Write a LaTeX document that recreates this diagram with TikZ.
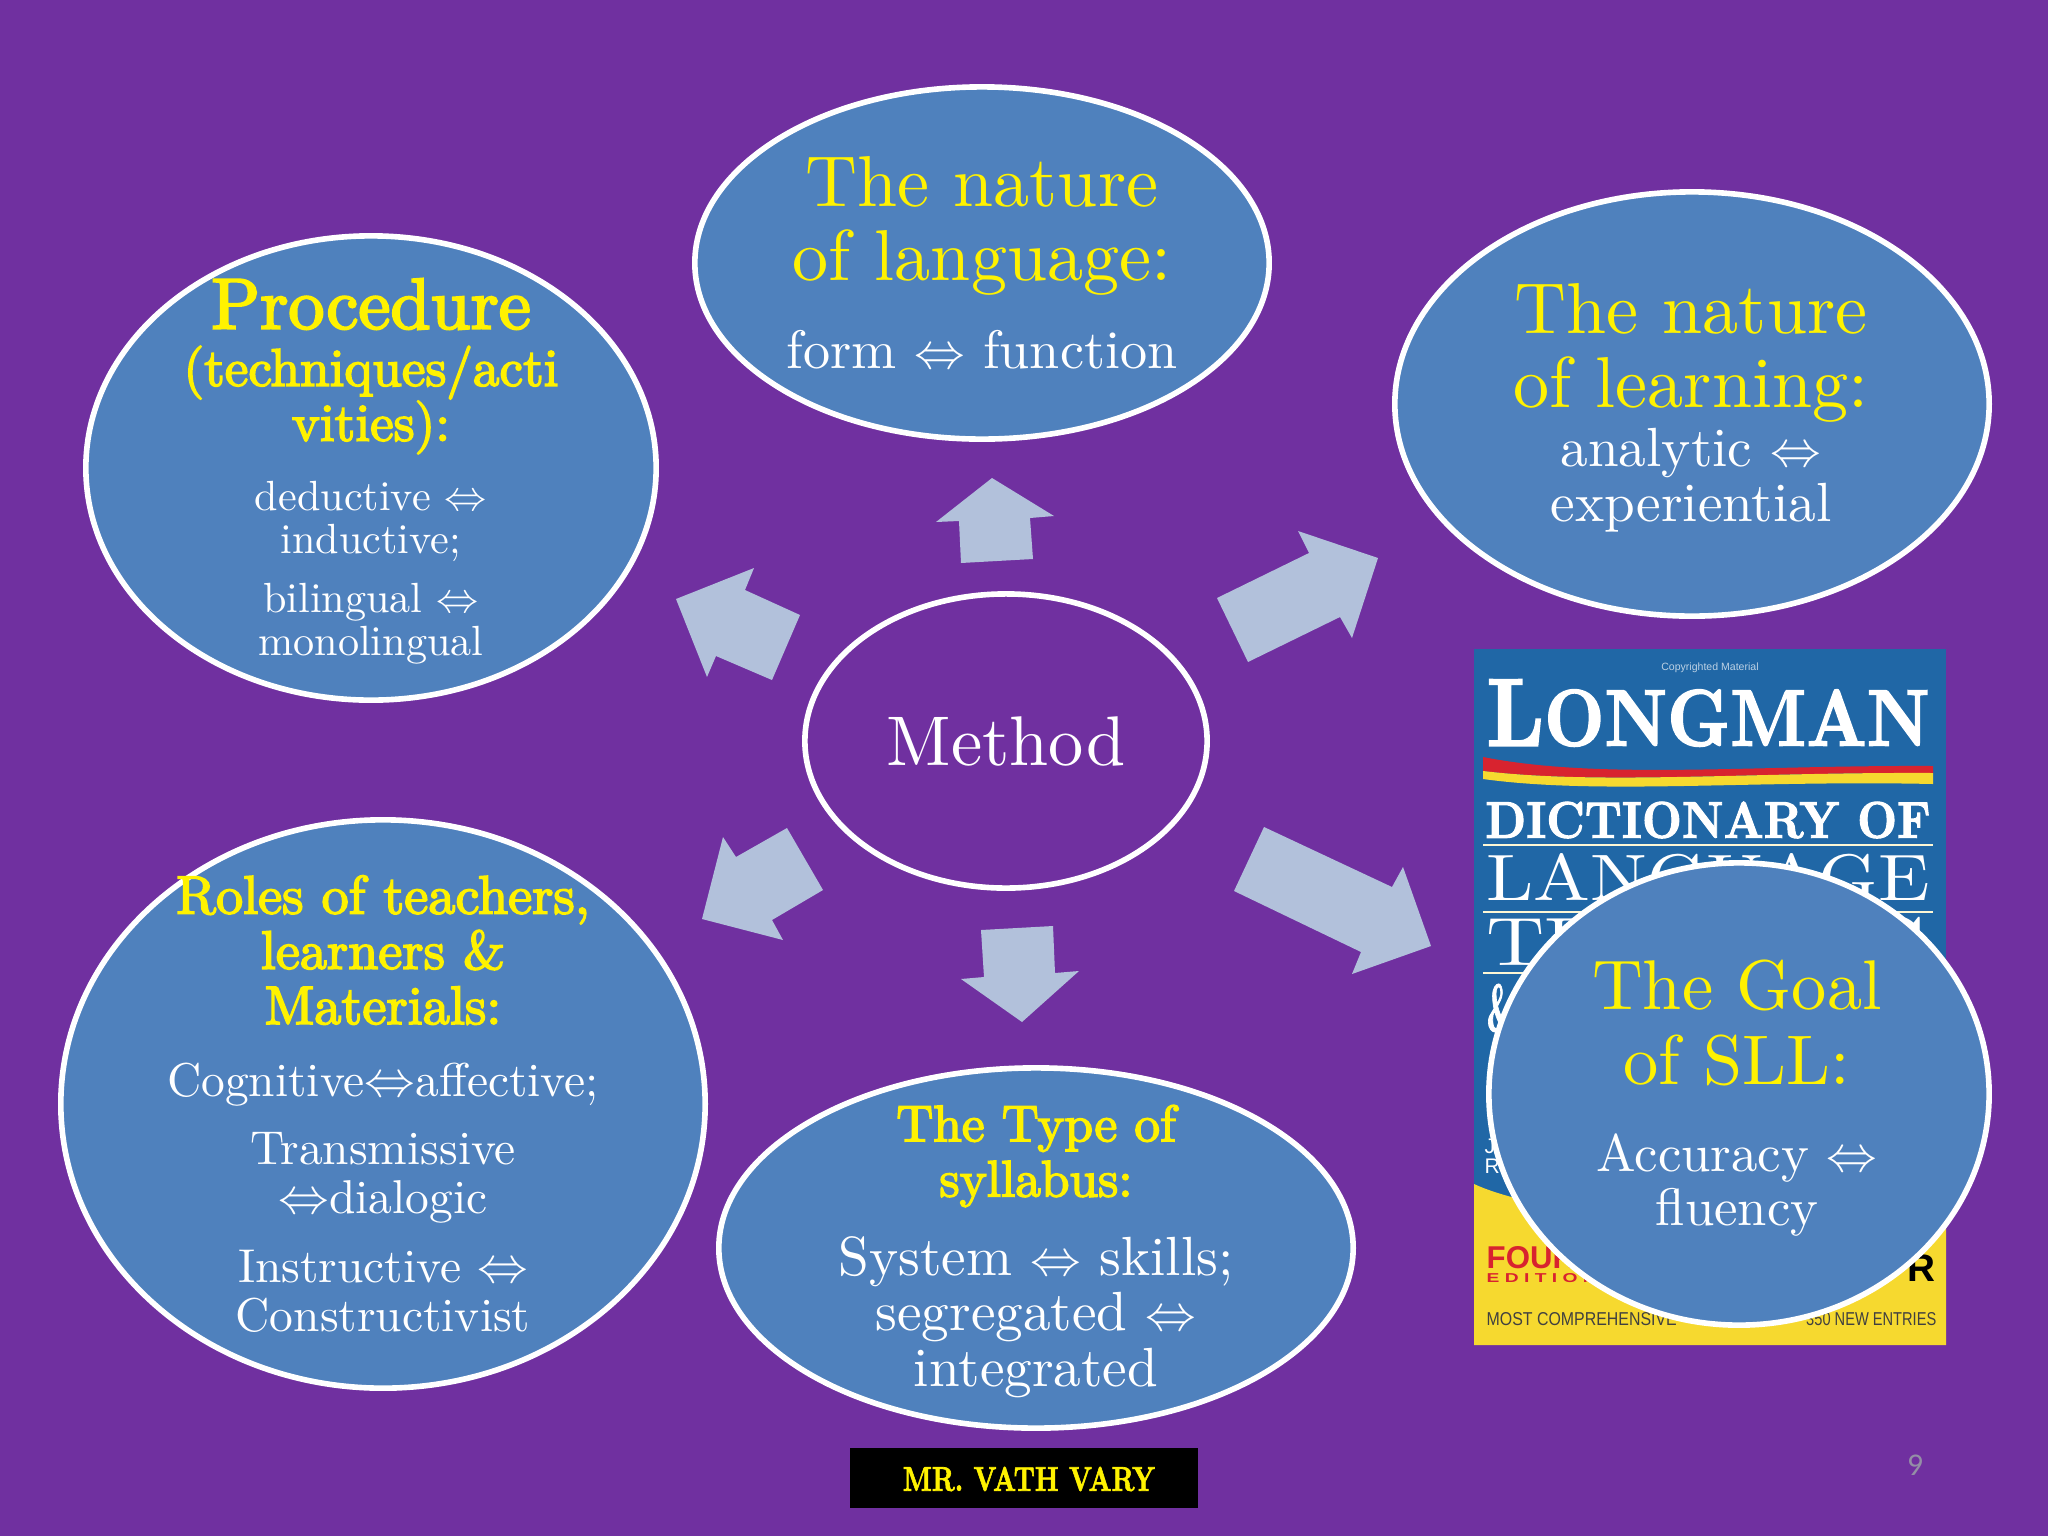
\documentclass[tikz,border=0pt]{standalone}
\usepackage{fontspec}
\setmainfont{lmroman10-regular.otf}[BoldFont=lmroman10-bold.otf]
\newfontfamily\heavyfont{lmroman10-regular.otf}[FakeBold=3]
\newfontfamily\coverbold{lmroman10-bold.otf}[FakeBold=2]
\newfontfamily\pagefont{Carlito}
\newfontfamily\coverfont{Liberation Sans}
\usetikzlibrary{shapes.geometric}
\definecolor{slidebg}{HTML}{7030A0}
\definecolor{blobfill}{HTML}{4F81BD}
\definecolor{arrowfill}{HTML}{B2C1DB}
\definecolor{coverblue}{HTML}{2067A6}
\definecolor{coveryellow}{HTML}{F6D92F}
\definecolor{coverred}{HTML}{D8232F}
\definecolor{pagegray}{HTML}{948FA6}
\newcommand{\twoway}{\(\Leftrightarrow\)}
\newcommand{\fsz}[2]{\fontsize{#1}{#2}\selectfont}
\newcommand{\coverline}[3]{\resizebox{#1}{#2}{#3}}
\tikzset{
  blob/.style={ellipse,draw=white,line width=1.6pt,fill=blobfill,inner sep=0pt},
  blockarrow/.style={fill=arrowfill},
  titletext/.style={text=yellow,align=center,inner sep=0pt},
  boldtext/.style={text=yellow,align=center,inner sep=0pt},
  bodytext/.style={text=white,align=center,inner sep=0pt},
  covertext/.style={inner sep=0pt,text=white},
  coverrule/.style={draw=white!80!coveryellow,line width=0.3pt}
}
\begin{document}
\begin{tikzpicture}[x=0.01cm,y=-0.01cm]
  \fill[slidebg] (0,0) rectangle (2048,1536);
  \useasboundingbox (0,0) rectangle (2048,1536);
  % book cover
  \fill[coverblue] (1474,649) rectangle (1946,1345);
  \fill[coveryellow] (1474,1184) .. controls (1500,1196) and (1540,1205) .. (1600,1215) -- (1946,1215) -- (1946,1345) -- (1474,1345) -- cycle;
  \fill[coverred] (1483,757) .. controls (1600,780) and (1750,765) .. (1933,766) -- (1933,773) .. controls (1750,772) and (1600,785) .. (1483,771) -- cycle;
  \fill[coveryellow] (1483,771) .. controls (1600,785) and (1750,772) .. (1933,773) -- (1933,784) .. controls (1750,780) and (1600,795) .. (1483,779) -- cycle;
  \node[covertext,text=white!70!coverblue] (coverCopy) at (1710,668) {\coverfont\fsz{3}{4}Copyrighted Material};
  \node[covertext] (coverLongman) at (1708,713) {\coverline{4.43cm}{0.66cm}{\coverbold\large L\normalsize ONGMAN}};
  \node[covertext] (coverDict) at (1708,820) {\coverline{4.45cm}{0.36cm}{\coverbold DICTIONARY OF}};
  \node[covertext] (coverLang) at (1708,878) {\coverline{4.43cm}{0.47cm}{LANGUAGE}};
  \node[covertext] (coverTeach) at (1708,942) {\coverline{4.43cm}{0.49cm}{TEACHING}};
  \node[covertext,anchor=west] (coverAmp) at (1486,1008) {\coverline{2.2cm}{0.47cm}{\coverbold\& APPLIED}};
  \draw[coverrule] (1483,845) -- (1933,845);
  \draw[coverrule] (1483,912) -- (1933,912);
  \draw[coverrule] (1483,973) -- (1933,973);
  \node[covertext,anchor=west] (coverJ) at (1484,1146) {\coverfont\fsz{6}{7}J};
  \node[covertext,anchor=west] (coverR) at (1484,1166) {\coverfont\fsz{6}{7}R};
  \node[covertext,anchor=west,text=coverred] (coverFourth) at (1486,1258) {\coverline{1.3cm}{0.22cm}{\coverfont\bfseries FOURTH}};
  \node[covertext,anchor=west,text=coverred] (coverEd) at (1486,1278) {\coverline{1.1cm}{0.09cm}{\coverfont\bfseries E D I T I O N}};
  \node[covertext,anchor=east,text=black] (coverLogo) at (1936,1268) {\coverfont\bfseries\fsz{11}{12}R};
  \node[covertext,anchor=west,text=black!75] (coverMost) at (1486,1319) {\coverline{1.9cm}{0.13cm}{\coverfont MOST COMPREHENSIVE}};
  \node[covertext,anchor=east,text=black!75] (coverEntries) at (1937,1319) {\coverline{1.3cm}{0.13cm}{\coverfont 350 NEW ENTRIES}};
  % ellipses
  \node[blob,minimum width=5.74cm,minimum height=3.52cm] (nature) at (982,263) {};
  \node[blob,minimum width=5.94cm,minimum height=4.24cm] (learning) at (1692,404) {};
  \node[blob,minimum width=5.70cm,minimum height=4.64cm] (procedure) at (371,468) {};
  \node[blob,minimum width=6.44cm,minimum height=5.68cm] (roles) at (383,1104) {};
  \node[blob,minimum width=6.34cm,minimum height=3.60cm] (syllabus) at (1036,1248) {};
  \node[blob,minimum width=5.00cm,minimum height=4.62cm] (goal) at (1739,1094) {};
  \node[blob,fill=none,text=white,minimum width=4.02cm,minimum height=2.94cm,font=\fsz{20}{24}] (method) at (1006,741) {Method};
  % arrows
  \fill[blockarrow] (961,563) -- (959,521) -- (936,522) -- (992,478) -- (1054,516) -- (1030,518) -- (1033,559) -- cycle;
  \fill[blockarrow] (1217,598) -- (1309,553) -- (1298,531) -- (1378,558) -- (1352,638) -- (1340,617) -- (1248,662) -- cycle;
  \fill[blockarrow] (1264,827) -- (1392,887) -- (1403,867) -- (1431,946) -- (1352,974) -- (1361,952) -- (1234,891) -- cycle;
  \fill[blockarrow] (981,930) -- (1053,926) -- (1055,973) -- (1079,971) -- (1022,1022) -- (961,979) -- (984,977) -- cycle;
  \fill[blockarrow] (787,828) -- (823,890) -- (772,920) -- (783,940) -- (702,919) -- (723,837) -- (736,857) -- cycle;
  \fill[blockarrow] (800,615) -- (772,680) -- (716,656) -- (707,677) -- (676,599) -- (754,568) -- (745,590) -- cycle;
  % texts
  \node[titletext,font=\fsz{20.5}{21.2}] (natureTitle) at (982,226) {The nature\\of language:};
  \node[bodytext,font=\fsz{15.4}{18}] (natureBody) at (982,350) {form \twoway{} function};
  \node[titletext,font=\fsz{20.5}{21.2}] (learningTitle) at (1691,353) {The nature\\of learning:};
  \node[bodytext,font=\fsz{15.7}{15.7}] (learningBody) at (1691,480) {analytic \twoway\\experiential};
  \node[boldtext,font=\fsz{20.5}{20}\heavyfont] (procedureTitle) at (371,304) {Procedure};
  \node[boldtext,font=\fsz{15.1}{15.6}\heavyfont] (procedureSub) at (371,400) {(techniques/acti\\vities):};
  \node[bodytext,font=\fsz{12}{12.2}] (procedureBodyA) at (371,521) {deductive \twoway\\inductive;};
  \node[bodytext,font=\fsz{12}{12.2}] (procedureBodyB) at (371,624) {bilingual \twoway\\monolingual};
  \node[boldtext,font=\fsz{15.4}{15.7}\heavyfont] (rolesTitle) at (383,950) {Roles of teachers,\\learners \&\\Materials:};
  \node[bodytext,font=\fsz{13.5}{14}] (rolesBodyA) at (383,1085) {Cognitive\twoway{}affective;};
  \node[bodytext,font=\fsz{13.5}{14}] (rolesBodyB) at (383,1178) {Transmissive\\\twoway{}dialogic};
  \node[bodytext,font=\fsz{13.5}{14}] (rolesBodyC) at (383,1291) {Instructive \twoway\\Constructivist};
  \node[boldtext,font=\fsz{14.6}{15.7}\heavyfont] (syllabusTitle) at (1036,1156) {The Type of\\syllabus:};
  \node[bodytext,font=\fsz{15.7}{15.7}] (syllabusBody) at (1036,1317) {System \twoway{} skills;\\segregated \twoway\\integrated};
  \node[titletext,font=\fsz{20}{21.2}] (goalTitle) at (1737,1023) {The Goal\\of SLL:};
  \node[bodytext,font=\fsz{15}{15.6}] (goalBody) at (1737,1185) {Accuracy \twoway\\fluency};
  % footer
  \node[fill=black,text=yellow,minimum width=3.48cm,minimum height=0.60cm,inner sep=0pt] (footer) at (1024,1478) {};
  \node[text=yellow,inner sep=0pt] (footerText) at (1029,1479) {\coverline{2.52cm}{0.24cm}{\coverbold MR. VATH VARY}};
  \node[inner sep=0pt,text=pagegray,font=\pagefont\fsz{9}{10}] (pagenum) at (1915,1465) {9};
\end{tikzpicture}
\end{document}
